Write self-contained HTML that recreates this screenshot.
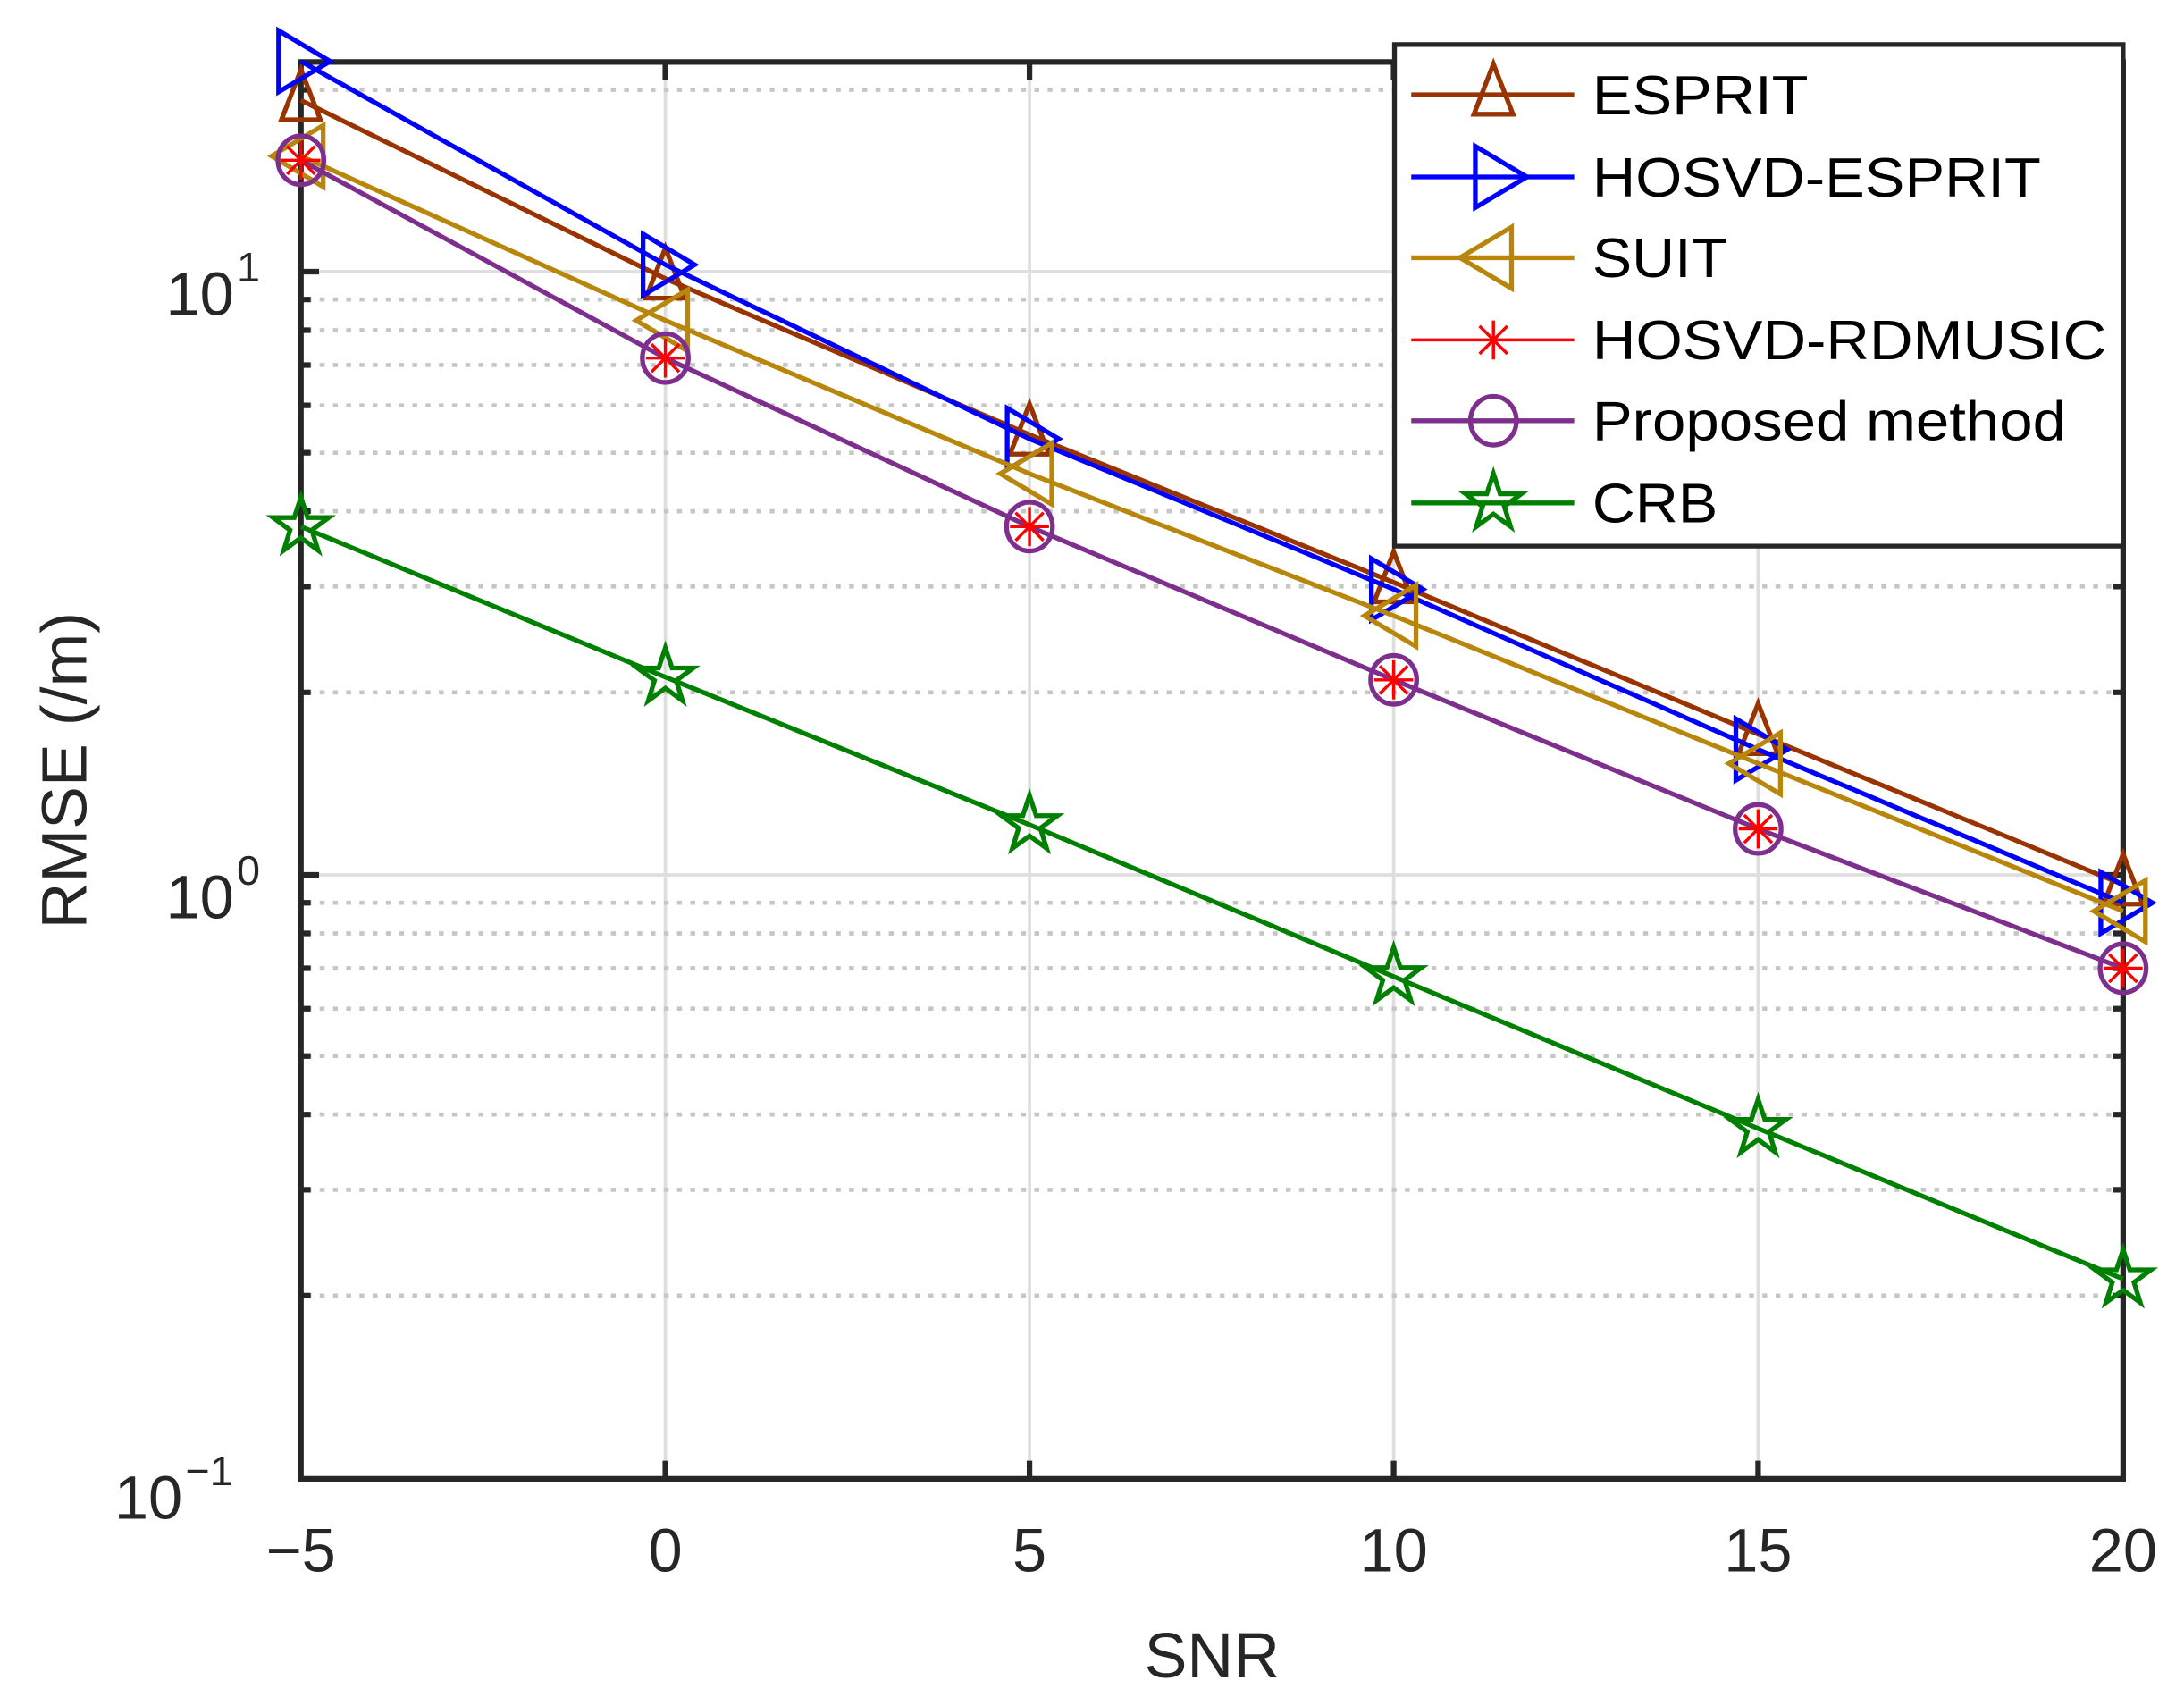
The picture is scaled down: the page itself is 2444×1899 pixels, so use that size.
<!DOCTYPE html>
<html><head><meta charset="utf-8"><style>html,body{margin:0;padding:0;background:#fff}svg{display:block}</style></head>
<body>
<svg width="2444" height="1899" viewBox="0 0 1567.7 1218.1" preserveAspectRatio="none" xmlns="http://www.w3.org/2000/svg" font-family="Liberation Sans, sans-serif">
<rect x="0" y="0" width="1567.7" height="1218.1" fill="#fff"/>
<defs>
<clipPath id="c"><rect x="150" y="0" width="1418" height="1100"/></clipPath>
<path id="st" d="M0,-21 L4.8,-6.5 L20,-6.5 L7.8,2.5 L12.3,17 L0,8 L-12.3,17 L-7.8,2.5 L-20,-6.5 L-4.8,-6.5 Z"/>
</defs>
<g stroke="#dedede" stroke-width="2.4">
<line x1="477.6" y1="44.5" x2="477.6" y2="1061.5"/>
<line x1="739" y1="44.5" x2="739" y2="1061.5"/>
<line x1="1000.4" y1="44.5" x2="1000.4" y2="1061.5"/>
<line x1="1262" y1="44.5" x2="1262" y2="1061.5"/>
<line x1="216" y1="195" x2="1524" y2="195"/>
<line x1="216" y1="628" x2="1524" y2="628"/>
</g>
<g stroke="#c6c6c6" stroke-width="3" stroke-dasharray="3.5,6">
<line x1="220" y1="64.5" x2="1524" y2="64.5"/>
<line x1="220" y1="215" x2="1524" y2="215"/>
<line x1="220" y1="237" x2="1524" y2="237"/>
<line x1="220" y1="262" x2="1524" y2="262"/>
<line x1="220" y1="291" x2="1524" y2="291"/>
<line x1="220" y1="325" x2="1524" y2="325"/>
<line x1="220" y1="367" x2="1524" y2="367"/>
<line x1="220" y1="421" x2="1524" y2="421"/>
<line x1="220" y1="497" x2="1524" y2="497"/>
<line x1="220" y1="648" x2="1524" y2="648"/>
<line x1="220" y1="670" x2="1524" y2="670"/>
<line x1="220" y1="695" x2="1524" y2="695"/>
<line x1="220" y1="724" x2="1524" y2="724"/>
<line x1="220" y1="758" x2="1524" y2="758"/>
<line x1="220" y1="800" x2="1524" y2="800"/>
<line x1="220" y1="854" x2="1524" y2="854"/>
<line x1="220" y1="930" x2="1524" y2="930"/>
</g>
<rect x="216" y="44.5" width="1308" height="1017" fill="none" stroke="#262626" stroke-width="4"/>
<g stroke="#262626" stroke-width="4">
<path d="M477.6 1061.5v-13M739 1061.5v-13M1000.4 1061.5v-13M1262 1061.5v-13M477.6 44.5v13M739 44.5v13M1000.4 44.5v13M1262 44.5v13"/>
<path d="M216 195h13M216 628h13M1524 195h-13M1524 628h-13"/>
<path d="M216 64.5h7M216 215h7M216 237h7M216 262h7M216 291h7M216 325h7M216 367h7M216 421h7M216 497h7M216 648h7M216 670h7M216 695h7M216 724h7M216 758h7M216 800h7M216 854h7M216 930h7"/>
<path d="M1524 64.5h-7M1524 215h-7M1524 237h-7M1524 262h-7M1524 291h-7M1524 325h-7M1524 367h-7M1524 421h-7M1524 497h-7M1524 648h-7M1524 670h-7M1524 695h-7M1524 724h-7M1524 758h-7M1524 800h-7M1524 854h-7M1524 930h-7"/>
</g>
<g fill="#262626" font-size="44" text-anchor="middle">
<text x="216" y="1128">−5</text>
<text x="477.6" y="1128">0</text>
<text x="739" y="1128">5</text>
<text x="1000.4" y="1128">10</text>
<text x="1262" y="1128">15</text>
<text x="1524" y="1128">20</text>
</g>
<g fill="#262626" font-size="44">
<text x="119" y="226">10</text><text x="170" y="202" font-size="30">1</text>
<text x="119" y="659">10</text><text x="170" y="635" font-size="30">0</text>
<text x="82" y="1090">10</text><text x="133" y="1066" font-size="30">−1</text>
</g>
<text x="870" y="1204" font-size="46" fill="#262626" text-anchor="middle">SNR</text>
<text transform="translate(62,553) rotate(-90)" font-size="46" fill="#262626" text-anchor="middle">RMSE (/m)</text>

<g clip-path="url(#c)" fill="none" stroke-width="3.4" stroke-linejoin="miter">
<g stroke="#993300">
<polyline points="216,72 477.6,200 739,312 1000.4,418 1262,527 1524,635"/>
<path d="M216,50 l-14,36 h28 Z"/>
<path d="M477.6,178 l-14,36 h28 Z"/>
<path d="M739,290 l-14,36 h28 Z"/>
<path d="M1000.4,396 l-14,36 h28 Z"/>
<path d="M1262,505 l-14,36 h28 Z"/>
<path d="M1524,613 l-14,36 h28 Z"/>
</g>
<g stroke="#0000ff">
<polyline points="216,44 477.6,190 739,315 1000.4,423 1262,538 1524,648"/>
<path d="M200,22 l37,22 l-37,22 Z"/>
<path d="M461.6,168 l37,22 l-37,22 Z"/>
<path d="M723,293 l37,22 l-37,22 Z"/>
<path d="M984.4,401 l37,22 l-37,22 Z"/>
<path d="M1246,516 l37,22 l-37,22 Z"/>
<path d="M1508,626 l37,22 l-37,22 Z"/>
</g>
<g stroke="#b8860b">
<polyline points="216,112 477.6,230 739,340 1000.4,442 1262,548 1524,654"/>
<path d="M232,90 l-37,22 l37,22 Z"/>
<path d="M493.6,208 l-37,22 l37,22 Z"/>
<path d="M755,318 l-37,22 l37,22 Z"/>
<path d="M1016.4,420 l-37,22 l37,22 Z"/>
<path d="M1278,526 l-37,22 l37,22 Z"/>
<path d="M1540,632 l-37,22 l37,22 Z"/>
</g>
<g stroke="#7e2f8e">
<polyline points="216,115 477.6,257 739,378 1000.4,488 1262,595 1524,695"/>
<ellipse cx="216" cy="115" rx="16.5" ry="17.5"/>
<ellipse cx="477.6" cy="257" rx="16.5" ry="17.5"/>
<ellipse cx="739" cy="378" rx="16.5" ry="17.5"/>
<ellipse cx="1000.4" cy="488" rx="16.5" ry="17.5"/>
<ellipse cx="1262" cy="595" rx="16.5" ry="17.5"/>
<ellipse cx="1524" cy="695" rx="16.5" ry="17.5"/>
</g>
<g stroke="#ff0000" stroke-width="2.2">
<path d="M216,101v28M206,105l20,20M226,105l-20,20M202,115h28"/>
<path d="M477.6,243v28M467.6,247l20,20M487.6,247l-20,20M463.6,257h28"/>
<path d="M739,364v28M729,368l20,20M749,368l-20,20M725,378h28"/>
<path d="M1000.4,474v28M990.4,478l20,20M1010.4,478l-20,20M986.4,488h28"/>
<path d="M1262,581v28M1252,585l20,20M1272,585l-20,20M1248,595h28"/>
<path d="M1524,681v28M1514,685l20,20M1534,685l-20,20M1510,695h28"/>
</g>
<g stroke="#008000">
<polyline points="216,378 477.6,486 739,592 1000.4,701 1262,810 1524,918"/>
<use href="#st" x="216" y="378"/>
<use href="#st" x="477.6" y="486"/>
<use href="#st" x="739" y="592"/>
<use href="#st" x="1000.4" y="701"/>
<use href="#st" x="1262" y="810"/>
<use href="#st" x="1524" y="918"/>
</g>
</g>

<rect x="1001" y="32" width="523" height="360" fill="#fff" stroke="#262626" stroke-width="3.4"/>
<g fill="none" stroke-width="3.4">
<g stroke="#993300"><line x1="1013" y1="68" x2="1130" y2="68"/><path d="M1072,46 l-14,36 h28 Z"/></g>
<g stroke="#0000ff"><line x1="1013" y1="127" x2="1130" y2="127"/><path d="M1059,105 l37,22 l-37,22 Z"/></g>
<g stroke="#b8860b"><line x1="1013" y1="185" x2="1130" y2="185"/><path d="M1085,163 l-37,22 l37,22 Z"/></g>
<g stroke="#ff0000" stroke-width="2.2"><line x1="1013" y1="244" x2="1130" y2="244"/><path d="M1072,230v28M1062,234l20,20M1082,234l-20,20"/></g>
<g stroke="#7e2f8e"><line x1="1013" y1="302" x2="1130" y2="302"/><ellipse cx="1072" cy="302" rx="16.5" ry="17.5"/></g>
<g stroke="#008000"><line x1="1013" y1="361" x2="1130" y2="361"/><use href="#st" x="1072" y="361"/></g>
</g>
<g fill="#000" font-size="40">
<text x="1143" y="82" textLength="155" lengthAdjust="spacingAndGlyphs">ESPRIT</text>
<text x="1143" y="141" textLength="322" lengthAdjust="spacingAndGlyphs">HOSVD-ESPRIT</text>
<text x="1143" y="199" textLength="97" lengthAdjust="spacingAndGlyphs">SUIT</text>
<text x="1143" y="258" textLength="369" lengthAdjust="spacingAndGlyphs">HOSVD-RDMUSIC</text>
<text x="1143" y="316" textLength="340" lengthAdjust="spacingAndGlyphs">Proposed method</text>
<text x="1143" y="375" textLength="90" lengthAdjust="spacingAndGlyphs">CRB</text>
</g>
</svg>
</body></html>
